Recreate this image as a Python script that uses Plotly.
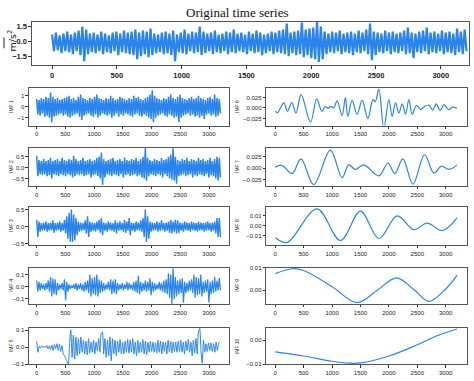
import numpy as np
import plotly.graph_objects as go

W, H = 474, 381
BLUE = "#2a84ea"

# ---------------- data ----------------
top_hi = [0.7, 0.9, 0.6, 0.8, 1.0, 0.7, 0.9, 1.1, 1.5, 1.2,
          0.8, 0.9, 0.7, 1.0, 0.8, 0.6, 0.9, 1.0, 0.8, 1.1,
          0.9, 1.0, 1.2, 0.9, 1.1, 1.0, 1.3, 0.8, 0.7, 0.9,
          1.0, 0.8, 1.1, 0.7, 0.9, 1.2, 0.8, 1.0, 0.9, 1.5,
          1.0, 0.8, 0.9, 1.1, 0.7, 0.8, 1.0, 0.9, 1.2, 0.8,
          0.9, 0.7, 1.0, 0.8, 1.1, 0.9, 0.7, 0.8, 1.0, 0.9,
          1.1, 1.2, 1.8, 0.9, 1.0, 1.1, 1.9, 1.2, 1.3, 1.4,
          2.0, 1.5, 1.0, 0.8, 1.0, 0.9, 1.1, 0.8, 0.9, 1.0,
          0.8, 1.1, 0.9, 1.2, 1.8, 1.0, 0.9, 0.8, 1.1, 0.9,
          1.0, 0.8, 0.9, 1.1, 1.4, 0.9, 0.8, 1.0, 1.1, 1.4,
          0.9, 1.0, 0.8, 1.1, 0.9, 1.0, 0.8, 1.3, 1.0, 1.2]
top_lo = [-1.0, -0.9, -1.2, -1.0, -1.1, -1.3, -1.0, -1.4, -2.0, -1.3,
          -1.1, -1.2, -1.0, -1.3, -1.1, -1.2, -1.0, -1.4, -1.1, -1.2,
          -1.3, -1.4, -1.8, -1.5, -1.3, -1.6, -1.4, -1.2, -1.1, -1.3,
          -1.2, -1.4, -2.0, -1.1, -1.2, -1.3, -1.0, -1.2, -1.1, -1.4,
          -1.2, -1.0, -1.3, -1.1, -1.2, -1.0, -1.3, -1.1, -1.2, -1.0,
          -1.1, -1.3, -1.0, -1.2, -1.1, -1.4, -1.2, -1.0, -1.3, -1.1,
          -1.2, -1.3, -1.5, -1.2, -1.4, -1.3, -1.6, -1.4, -1.7, -1.8,
          -2.1, -1.8, -1.3, -1.1, -1.2, -1.0, -1.3, -1.1, -1.2, -1.4,
          -1.1, -1.2, -1.0, -1.3, -1.9, -1.4, -1.1, -1.2, -1.0, -1.3,
          -1.1, -1.2, -1.0, -1.3, -1.2, -1.7, -1.1, -1.2, -1.0, -1.3,
          -1.1, -1.2, -1.0, -1.3, -1.1, -1.2, -1.4, -1.1, -1.3, -1.0]

imf1_hi = [0.7, 0.6, 0.8, 0.7, 0.9, 0.8, 1.3, 0.9, 0.7, 0.8,
           0.6, 0.7, 0.8, 0.9, 1.0, 0.7, 0.8, 0.6, 0.9, 1.1,
           0.8, 0.7, 0.6, 0.8, 0.7, 0.9, 1.1, 0.8, 0.7, 0.6,
           0.8, 0.7, 1.0, 0.8, 0.6, 0.7, 0.9, 0.8, 0.7, 0.6,
           0.8, 0.7, 1.0, 0.8, 0.9, 0.7, 0.6, 0.8, 0.9, 1.1,
           1.5, 1.0, 0.8, 0.7, 0.6, 0.8, 0.7, 0.9, 1.1, 0.8,
           0.7, 0.9, 1.1, 0.8, 0.7, 0.6, 0.8, 0.9, 0.7, 0.8,
           1.0, 0.8, 0.7, 0.6, 0.8, 0.9, 0.7, 1.1, 0.8, 0.7]
imf1_lo = [-0.7, -0.8, -0.6, -0.9, -0.8, -1.0, -1.4, -0.9, -0.8, -0.7,
           -0.6, -0.8, -0.7, -0.9, -1.0, -0.8, -0.7, -0.6, -0.9, -1.2,
           -0.8, -0.7, -0.6, -0.8, -0.9, -0.7, -1.0, -0.8, -0.6, -0.7,
           -0.8, -0.7, -1.0, -0.8, -0.6, -0.9, -0.7, -0.8, -0.6, -0.7,
           -0.8, -0.9, -0.7, -0.6, -0.8, -0.9, -0.7, -0.8, -1.0, -1.1,
           -1.4, -1.0, -0.8, -0.7, -0.6, -0.8, -0.9, -0.7, -0.8, -1.0,
           -0.9, -1.4, -1.0, -0.8, -0.7, -0.6, -0.8, -0.7, -0.9, -0.8,
           -1.0, -0.8, -1.1, -0.7, -0.6, -0.8, -0.7, -0.9, -0.8, -0.6]

imf2_hi = [0.55, 0.35, 0.3, 0.4, 0.3, 0.35, 0.45, 0.3, 0.35, 0.4,
           0.3, 0.45, 0.35, 0.3, 0.4, 0.35, 0.55, 0.4, 0.3, 0.35,
           0.45, 0.3, 0.35, 0.4, 0.3, 0.35, 0.45, 0.5, 0.7, 0.4,
           0.3, 0.35, 0.4, 0.45, 0.3, 0.35, 0.4, 0.3, 0.45, 0.35,
           0.3, 0.4, 0.35, 0.45, 0.3, 0.4, 0.5, 0.9, 0.45, 0.35,
           0.3, 0.4, 0.35, 0.3, 0.45, 0.35, 0.4, 0.5, 0.6, 0.9,
           0.5, 0.35, 0.3, 0.4, 0.35, 0.45, 0.3, 0.4, 0.35, 0.3,
           0.45, 0.35, 0.4, 0.3, 0.35, 0.45, 0.3, 0.4, 0.5, 0.45]
imf2_lo = [-0.4, -0.3, -0.35, -0.3, -0.4, -0.35, -0.5, -0.3, -0.35, -0.4,
           -0.3, -0.35, -0.4, -0.3, -0.35, -0.45, -0.4, -0.3, -0.35, -0.3,
           -0.4, -0.35, -0.3, -0.45, -0.35, -0.3, -0.4, -0.5, -0.8, -0.45,
           -0.3, -0.35, -0.4, -0.3, -0.35, -0.4, -0.3, -0.45, -0.35, -0.3,
           -0.4, -0.35, -0.3, -0.4, -0.35, -0.45, -0.5, -0.6, -0.4, -0.3,
           -0.35, -0.4, -0.3, -0.35, -0.45, -0.3, -0.4, -0.5, -0.55, -0.6,
           -0.75, -0.4, -0.35, -0.3, -0.4, -0.35, -0.3, -0.45, -0.35, -0.4,
           -0.3, -0.35, -0.4, -0.3, -0.45, -0.35, -0.4, -0.5, -0.6, -0.45]

imf3_hi = [0.2, 0.15, 0.1, 0.12, 0.15, 0.1, 0.12, 0.18, 0.1, 0.12,
           0.15, 0.1, 0.2, 0.3, 0.4, 0.5, 0.35, 0.25, 0.15, 0.12,
           0.1, 0.18, 0.3, 0.15, 0.12, 0.1, 0.15, 0.2, 0.25, 0.12,
           0.1, 0.15, 0.12, 0.1, 0.18, 0.12, 0.15, 0.1, 0.2, 0.15,
           0.25, 0.12, 0.1, 0.15, 0.12, 0.18, 0.25, 0.5, 0.3, 0.15,
           0.12, 0.1, 0.15, 0.12, 0.18, 0.1, 0.12, 0.15, 0.2, 0.15,
           0.2, 0.18, 0.12, 0.1, 0.15, 0.12, 0.1, 0.15, 0.12, 0.1,
           0.15, 0.12, 0.1, 0.12, 0.15, 0.1, 0.12, 0.15, 0.25, 0.25]
imf3_lo = [-0.3, -0.15, -0.12, -0.1, -0.15, -0.12, -0.1, -0.18, -0.12, -0.1,
           -0.15, -0.12, -0.2, -0.35, -0.45, -0.45, -0.4, -0.25, -0.15, -0.12,
           -0.1, -0.2, -0.3, -0.15, -0.12, -0.15, -0.1, -0.18, -0.25, -0.12,
           -0.15, -0.1, -0.12, -0.15, -0.2, -0.12, -0.1, -0.15, -0.18, -0.12,
           -0.25, -0.12, -0.15, -0.1, -0.12, -0.15, -0.3, -0.45, -0.35, -0.15,
           -0.12, -0.1, -0.15, -0.12, -0.1, -0.15, -0.12, -0.18, -0.2, -0.15,
           -0.2, -0.18, -0.12, -0.15, -0.1, -0.12, -0.15, -0.1, -0.12, -0.15,
           -0.12, -0.1, -0.15, -0.12, -0.1, -0.15, -0.12, -0.2, -0.3, -0.3]

imf4_hi = [0.05, 0.04, 0.03, 0.02, 0.03, 0.05, 0.08, 0.07, 0.06, 0.03,
           0.02, 0.03, 0.06, 0.04, 0.02, 0.01, 0.02, 0.03, 0.02, 0.03,
           0.02, 0.04, 0.05, 0.1, 0.07, 0.08, 0.1, 0.06, 0.05, 0.03,
           0.02, 0.04, 0.06, 0.05, 0.06, 0.03, 0.02, 0.03, 0.02, 0.04,
           0.03, 0.02, 0.04, 0.05, 0.09, 0.04, 0.03, 0.05, 0.04, 0.07,
           0.04, 0.03, 0.02, 0.04, 0.03, 0.05, 0.06, 0.11, 0.1, 0.15,
           0.08, 0.05, 0.06, 0.07, 0.04, 0.03, 0.05, 0.06, 0.1, 0.08,
           0.07, 0.1, 0.04, 0.05, 0.06, 0.04, 0.05, 0.08, 0.05, 0.07]
imf4_lo = [-0.04, -0.03, -0.02, -0.03, -0.02, -0.04, -0.08, -0.06, -0.07, -0.03,
           -0.02, -0.03, -0.11, -0.04, -0.02, -0.01, -0.02, -0.03, -0.02, -0.03,
           -0.04, -0.03, -0.05, -0.08, -0.06, -0.07, -0.08, -0.05, -0.04, -0.03,
           -0.02, -0.03, -0.06, -0.05, -0.06, -0.03, -0.02, -0.03, -0.02, -0.03,
           -0.02, -0.03, -0.04, -0.05, -0.06, -0.04, -0.03, -0.04, -0.03, -0.07,
           -0.04, -0.03, -0.02, -0.03, -0.04, -0.05, -0.06, -0.09, -0.14, -0.1,
           -0.08, -0.06, -0.05, -0.13, -0.05, -0.04, -0.03, -0.05, -0.09, -0.07,
           -0.06, -0.08, -0.05, -0.04, -0.13, -0.06, -0.05, -0.04, -0.03, -0.03]

imf5 = [0.035, -0.03, 0.005, -0.005, 0.008, -0.002, 0.006, -0.004, 0.01, -0.01,
        0.008, -0.015, 0.012, -0.02, 0.015, -0.01, 0.02, -0.02, 0.018, -0.025,
        0.01, -0.04, -0.05, -0.07, -0.085, -0.1, 0.02, 0.1, -0.06, 0.07,
        -0.07, 0.06, -0.05, 0.05, -0.04, 0.06, -0.03, 0.04, -0.04, 0.035,
        -0.045, 0.05, -0.035, 0.03, -0.03, 0.04, -0.04, 0.03, -0.02, 0.05,
        -0.03, 0.08, 0.09, -0.04, 0.05, -0.06, 0.04, -0.05, 0.06, -0.08,
        0.05, -0.04, 0.04, -0.05, 0.035, -0.03, 0.045, -0.04, 0.03, -0.04,
        0.035, -0.03, 0.045, -0.035, 0.04, -0.03, 0.05, -0.04, 0.03, -0.05,
        0.04, -0.035, 0.03, -0.03, 0.045, -0.04, 0.035, -0.045, 0.03, -0.03,
        0.035, -0.025, 0.03, -0.03, 0.025, -0.035, 0.04, -0.03, 0.035, -0.04,
        0.03, -0.025, 0.03, -0.04, 0.04, -0.03, 0.035, -0.035, 0.03, -0.025,
        0.03, -0.03, 0.035, -0.025, 0.04, -0.03, 0.03, -0.04, 0.035, -0.02,
        0.045, -0.03, 0.03, -0.05, 0.04, -0.035, 0.05, -0.04, 0.09, 0.11,
        -0.02, -0.095, 0.04, -0.03, 0.02, -0.025, 0.025, -0.02, 0.025, -0.025,
        0.02, -0.03, 0.03, -0.02, 0.025, 0.03]

imf6_x = [0, 40, 150, 215, 290, 365, 455, 620, 730, 820, 880, 930, 980, 1030,
          1088, 1176, 1235, 1276, 1353, 1440, 1530, 1630, 1720, 1760, 1823, 1911,
          2000, 2058, 2117, 2176, 2235, 2293, 2352, 2411, 2482, 2560, 2620, 2705,
          2770, 2835, 2900, 2970, 3050, 3120, 3200]
imf6_y = [-0.008, -0.011, 0.012, -0.008, 0.013, -0.012, 0.032, -0.034, 0.022,
          -0.008, 0.003, -0.001, 0.004, 0.0, 0.017, -0.018, 0.025, -0.02, 0.018,
          -0.015, 0.018, -0.025, 0.02, 0.015, 0.045, -0.048, 0.02, -0.02, 0.012,
          -0.012, 0.01, -0.015, 0.02, -0.015, 0.006, -0.004, 0.003, 0.007,
          -0.005, 0.01, -0.006, 0.008, -0.004, 0.002, 0.0]

imf7_x = [0, 118, 294, 453, 676, 970, 1176, 1294, 1411, 1558, 1823, 1982, 2105,
          2246, 2423, 2628, 2793, 2922, 3058, 3200]
imf7_y = [0.002, 0.006, -0.012, 0.02, -0.036, 0.039, -0.021, 0.007, -0.003, 0.007,
          -0.017, 0.011, -0.012, 0.02, -0.035, 0.029, -0.011, 0.004, -0.003, 0.007]

imf8_x = [0, 206, 735, 1147, 1500, 1823, 2146, 2440, 2676, 2940, 3200]
imf8_y = [-0.0123, -0.0171, 0.0169, -0.015, 0.0146, -0.013, 0.0098, -0.004,
          0.0026, -0.005, 0.0078]

imf9_x = [0, 294, 500, 1000, 1440, 1800, 2134, 2450, 2705, 3000, 3200]
imf9_y = [0.0074, 0.0096, 0.0088, 0.0015, -0.0056, 0.0, 0.0055, 0.0, -0.0051,
          0.0005, 0.0066]

imf10_x = [0, 500, 1000, 1294, 1500, 2000, 2500, 2850, 3200]
imf10_y = [-0.0049, -0.0066, -0.0088, -0.0096, -0.0095, -0.0066, -0.0019,
           0.0019, 0.0047]

x_ticks = [0, 500, 1000, 1500, 2000, 2500, 3000]
x_ticklabels = ["0", "500", "1000", "1500", "2000", "2500", "3000"]

panel_names = ["IMF 1", "IMF 2", "IMF 3", "IMF 4", "IMF 5",
               "IMF 6", "IMF 7", "IMF 8", "IMF 9", "IMF 10"]
y_ticks = [[-1, 0, 1], [-0.5, 0, 0.5], [-0.5, 0, 0.5], [-0.1, 0, 0.1], [-0.1, 0, 0.1],
           [-0.025, 0, 0.025], [-0.025, 0, 0.025], [-0.01, 0, 0.01], [0, 0.01], [-0.01, 0]]
y_ticklabels = [["−1", "0", "1"], ["−0.5", "0.0", "0.5"], ["−0.5", "0.0", "0.5"],
                ["−0.1", "0.0", "0.1"], ["−0.1", "0.0", "0.1"],
                ["−0.025", "0.000", "0.025"], ["−0.025", "0.000", "0.025"],
                ["−0.01", "0.00", "0.01"], ["0.00", "0.01"], ["−0.01", "0.00"]]
top_yticks = [-1.5, 0, 1.5]
top_yticklabels = ["−1.5", "0.0", "1.5"]

# ---------------- layout geometry (pixels) ----------------
def dx(l, r):
    return [l / W, r / W]

def dy(t, b):
    return [1 - b / H, 1 - t / H]

rows = [(86.7, 124.5), (147.3, 185.7), (207.3, 245.7), (269, 305.7), (330.3, 367)]
cols = [(29, 229), (266.3, 467)]
col_xrange = [[-134, 3348], [-158, 3375]]
y_ranges = [[-1.7, 1.67], [-0.84, 0.91], [-0.53, 0.57], [-0.14, 0.155], [-0.1005, 0.112],
            [-0.042, 0.047], [-0.0385, 0.0437], [-0.0194, 0.0188], [-0.0062, 0.01005],
            [-0.01005, 0.0051]]
noisy_widths = [1.5, 1.5, 1.4, 1.2]


def interleave(hi, lo):
    y = []
    for a, b in zip(hi, lo):
        y.append(a)
        y.append(b)
    x = np.linspace(0, 3199, len(y))
    return x, y


fig = go.Figure()
AX = dict(showline=True, mirror=True, linecolor="#555", linewidth=1.1,
          ticks="outside", ticklen=2.5, tickwidth=0.8, tickcolor="#333",
          showgrid=False, zeroline=False, fixedrange=True)
small_font = dict(family="Liberation Sans", size=6, color="#222")

# top panel
tx, ty = interleave(top_hi, top_lo)
fig.add_trace(go.Scatter(x=tx, y=ty, mode="lines", line=dict(color=BLUE, width=2.2),
                         xaxis="x", yaxis="y", showlegend=False))
fig.update_layout(
    xaxis=dict(domain=dx(32, 469), range=[-155, 3218], tickvals=x_ticks,
               ticktext=x_ticklabels, anchor="y",
               tickfont=dict(family="Liberation Sans", size=7.5, color="#222", weight="bold"), **AX),
    yaxis=dict(domain=dy(19, 63), range=[-2.4, 2.0], tickvals=top_yticks,
               ticktext=top_yticklabels, anchor="x",
               tickfont=dict(family="Liberation Sans", size=7.5, color="#222", weight="bold"), **AX),
)

noisy = [(imf1_hi, imf1_lo), (imf2_hi, imf2_lo), (imf3_hi, imf3_lo), (imf4_hi, imf4_lo)]
smooth = [(imf6_x, imf6_y), (imf7_x, imf7_y), (imf8_x, imf8_y), (imf9_x, imf9_y),
          (imf10_x, imf10_y)]

annotations = []
for k in range(10):
    c = k // 5
    r = k % 5
    n = k + 2
    xa, ya = f"x{n}", f"y{n}"
    if c == 0 and r < 4:
        px, py = interleave(*noisy[r])
        fig.add_trace(go.Scatter(x=px, y=py, mode="lines",
                                 line=dict(color=BLUE, width=noisy_widths[r]),
                                 xaxis=xa, yaxis=ya, showlegend=False))
    elif c == 0:
        px = np.linspace(0, 3190, len(imf5))
        fig.add_trace(go.Scatter(x=px, y=imf5, mode="lines",
                                 line=dict(color=BLUE, width=1, shape="spline", smoothing=0.6),
                                 xaxis=xa, yaxis=ya, showlegend=False))
    else:
        sx, sy = smooth[r]
        fig.add_trace(go.Scatter(x=sx, y=sy, mode="lines",
                                 line=dict(color=BLUE, width=1.2, shape="spline", smoothing=1.0),
                                 xaxis=xa, yaxis=ya, showlegend=False))
    t, b = rows[r]
    l, rr = cols[c]
    fig.layout[f"xaxis{n}"] = dict(domain=dx(l, rr), range=col_xrange[c], anchor=ya,
                                   tickvals=x_ticks, ticktext=x_ticklabels,
                                   tickfont=small_font, **AX)
    fig.layout[f"yaxis{n}"] = dict(domain=dy(t, b), range=y_ranges[k], anchor=xa,
                                   tickvals=y_ticks[k], ticktext=y_ticklabels[k],
                                   tickfont=small_font, **AX)
    annotations.append(dict(text=panel_names[k], x=(11 if c == 0 else 237) / W,
                            y=1 - ((t + b) / 2) / H, xref="paper", yref="paper",
                            showarrow=False, textangle=-90,
                            font=dict(family="Liberation Sans", size=5, color="#222"),
                            xanchor="center", yanchor="middle"))

annotations.append(dict(text="Original time series", x=0.5, y=1 - 10 / H, xref="paper",
                        yref="paper", showarrow=False,
                        font=dict(family="Liberation Serif", size=13, color="#111"),
                        xanchor="center", yanchor="middle"))
annotations.append(dict(text="m/s<sup>2</sup>", x=12 / W, y=1 - 38 / H, xref="paper",
                        yref="paper", showarrow=False, textangle=-90,
                        font=dict(family="DejaVu Sans", size=9.5, color="#111"),
                        xanchor="center", yanchor="middle"))

fig.update_layout(
    width=W, height=H, margin=dict(l=0, r=0, t=0, b=0),
    paper_bgcolor="white", plot_bgcolor="white",
    annotations=annotations,
    shapes=[dict(type="line", xref="paper", yref="paper", x0=4 / W, x1=4 / W,
                 y0=1 - 35 / H, y1=1 - 46 / H, line=dict(color="#222", width=1))],
)

fig.write_html("out.html", config={"displayModeBar": False},
               post_script="document.body.style.margin='0';document.body.style.overflow='hidden';")
